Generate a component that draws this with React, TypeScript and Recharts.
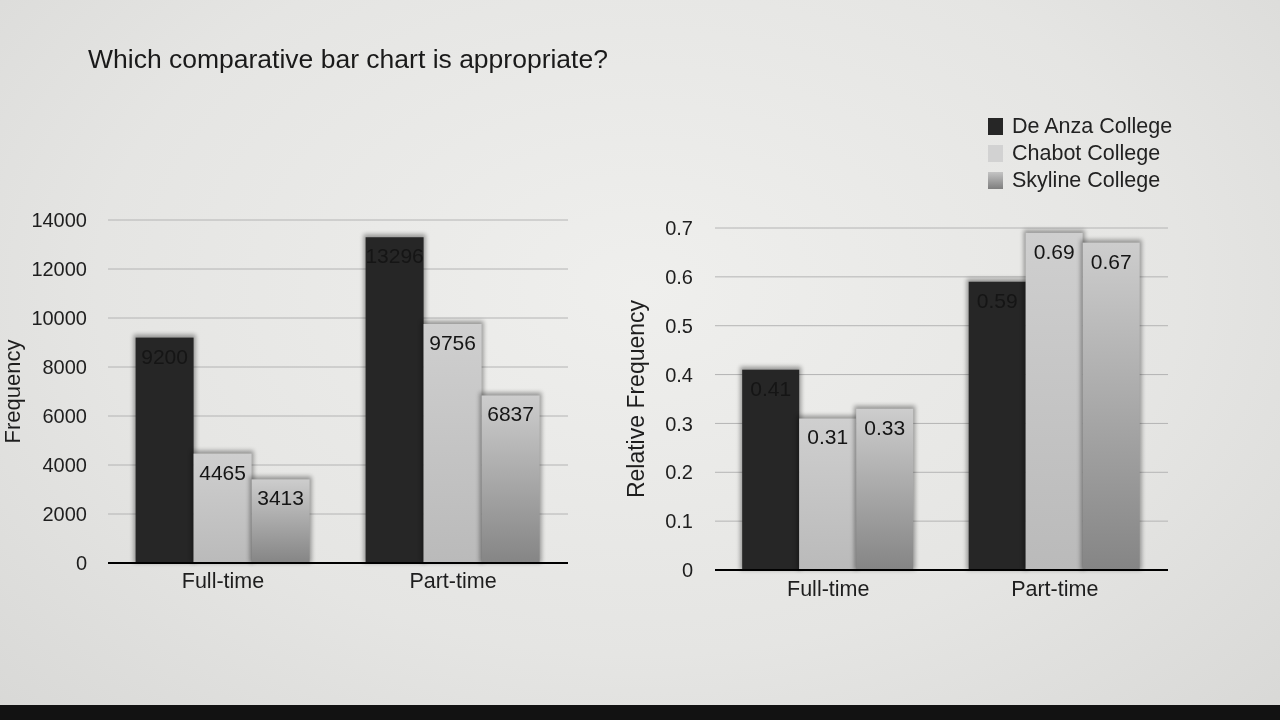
import React from 'react';
import { BarChart, Bar, XAxis, YAxis, CartesianGrid, LabelList, Label } from 'recharts';

const categories = ['Full-time', 'Part-time'];
const seriesNames = ['De Anza College', 'Chabot College', 'Skyline College'];
const deAnzaFreq = [9200, 13296];
const chabotFreq = [4465, 9756];
const skylineFreq = [3413, 6837];
const deAnzaRel = [0.41, 0.59];
const chabotRel = [0.31, 0.69];
const skylineRel = [0.33, 0.67];
const freqTicks = [0, 2000, 4000, 6000, 8000, 10000, 12000, 14000];
const relTicks = [0, 0.1, 0.2, 0.3, 0.4, 0.5, 0.6, 0.7];

const freqData = categories.map((c, i) => ({ cat: c, deAnza: deAnzaFreq[i], chabot: chabotFreq[i], skyline: skylineFreq[i] }));
const relData = categories.map((c, i) => ({ cat: c, deAnza: deAnzaRel[i], chabot: chabotRel[i], skyline: skylineRel[i] }));

const FONT = '"Liberation Sans", Arial, Helvetica, sans-serif';
const TEXT = '#1e1e1e';

const makeShape = (prefix: string) => (props: any) => {
  const { x, y, width, height, fill } = props;
  if (height == null || height <= 0) return <g />;
  return (
    <g>
      <rect x={x - 2} y={y - 3} width={width + 4} height={height + 3} fill="#000" opacity={0.35} filter={`url(#${prefix}-blur)`} />
      <rect x={x} y={y} width={width} height={height} fill={fill} />
    </g>
  );
};

const Defs = ({ prefix }: { prefix: string }) => (
  <defs>
    <filter id={`${prefix}-blur`} x="-20%" y="-20%" width="140%" height="140%">
      <feGaussianBlur stdDeviation="2" />
    </filter>
    <linearGradient id={`${prefix}-sky`} x1="0" y1="0" x2="0" y2="1">
      <stop offset="0%" stopColor="#cdcdcd" />
      <stop offset="100%" stopColor="#858585" />
    </linearGradient>
    <linearGradient id={`${prefix}-chabot`} x1="0" y1="0" x2="0" y2="1">
      <stop offset="0%" stopColor="#cfcfcf" />
      <stop offset="100%" stopColor="#bababa" />
    </linearGradient>
  </defs>
);

const legendFills = ['#262626', '#d2d2d2', 'linear-gradient(#c4c4c4, #7e7e7e)'];

const labelStyle = { fontSize: 21, fill: '#151515', fontFamily: FONT };
const tickStyle = { fontSize: 20, fill: TEXT, fontFamily: FONT };
const catStyle = { fontSize: 21.5, fill: TEXT, fontFamily: FONT };

export default function App() {
  return (
    <div
      style={{
        position: 'fixed',
        left: 0,
        top: 0,
        width: 1280,
        height: 720,
        overflow: 'hidden',
        background: 'radial-gradient(ellipse at 50% 40%, #efefed 0%, #e5e5e3 60%, #d8d8d6 100%)',
        fontFamily: FONT,
      }}
    >
      <div style={{ position: 'absolute', left: 88, top: 44, fontSize: 26.5, color: '#1a1a1a', whiteSpace: 'nowrap' }}>
        Which comparative bar chart is appropriate?
      </div>

      <div style={{ position: 'absolute', left: 988, top: 113, fontFamily: FONT, fontSize: 21.5, color: '#222' }}>
        {seriesNames.map((n, i) => (
          <div key={n} style={{ display: 'flex', alignItems: 'center', height: 27, whiteSpace: 'nowrap' }}>
            <div style={{ width: 15, height: 17, background: legendFills[i], marginRight: 9 }} />
            <span>{n}</span>
          </div>
        ))}
      </div>

      <div style={{ position: 'absolute', left: 0, top: 200 }}>
        <BarChart width={590} height={420} data={freqData} margin={{ top: 20, right: 22, bottom: 17, left: 0 }} barCategoryGap="12%" barGap={0}>
          <Defs prefix="f" />
          <CartesianGrid vertical={false} stroke="#b4b4b4" strokeWidth={1} />
          <XAxis dataKey="cat" axisLine={{ stroke: '#000', strokeWidth: 2 }} tickLine={false} tickSize={0} tickMargin={10} height={40}
            tick={catStyle} />
          <YAxis width={108} domain={[0, 14000]} ticks={freqTicks} axisLine={false} tickLine={false} tickSize={0} tickMargin={21}
            tick={tickStyle}>
            <Label value="Frequency" angle={-90} position="insideLeft" offset={12} style={{ textAnchor: 'middle', fontSize: 22, fill: TEXT, fontFamily: FONT }} />
          </YAxis>
          <Bar dataKey="deAnza" name={seriesNames[0]} fill="#262626" isAnimationActive={false} shape={makeShape('f')}>
            <LabelList dataKey="deAnza" position="insideTop" offset={11} style={labelStyle} />
          </Bar>
          <Bar dataKey="chabot" name={seriesNames[1]} fill="url(#f-chabot)" isAnimationActive={false} shape={makeShape('f')}>
            <LabelList dataKey="chabot" position="insideTop" offset={11} style={labelStyle} />
          </Bar>
          <Bar dataKey="skyline" name={seriesNames[2]} fill="url(#f-sky)" isAnimationActive={false} shape={makeShape('f')}>
            <LabelList dataKey="skyline" position="insideTop" offset={11} style={labelStyle} />
          </Bar>
        </BarChart>
      </div>

      <div style={{ position: 'absolute', left: 600, top: 208 }}>
        <BarChart width={590} height={422} data={relData} margin={{ top: 20, right: 22, bottom: 20, left: 0 }} barCategoryGap="12%" barGap={0}>
          <Defs prefix="r" />
          <CartesianGrid vertical={false} stroke="#b4b4b4" strokeWidth={1} />
          <XAxis dataKey="cat" axisLine={{ stroke: '#000', strokeWidth: 2 }} tickLine={false} tickSize={0} tickMargin={11} height={40}
            tick={catStyle} />
          <YAxis width={115} domain={[0, 0.7]} ticks={relTicks} axisLine={false} tickLine={false} tickSize={0} tickMargin={22}
            tick={tickStyle}>
            <Label value="Relative Frequency" angle={-90} position="insideLeft" offset={36} style={{ textAnchor: 'middle', fontSize: 23, fill: TEXT, fontFamily: FONT }} />
          </YAxis>
          <Bar dataKey="deAnza" name={seriesNames[0]} fill="#262626" isAnimationActive={false} shape={makeShape('r')}>
            <LabelList dataKey="deAnza" position="insideTop" offset={11} style={labelStyle} />
          </Bar>
          <Bar dataKey="chabot" name={seriesNames[1]} fill="url(#r-chabot)" isAnimationActive={false} shape={makeShape('r')}>
            <LabelList dataKey="chabot" position="insideTop" offset={11} style={labelStyle} />
          </Bar>
          <Bar dataKey="skyline" name={seriesNames[2]} fill="url(#r-sky)" isAnimationActive={false} shape={makeShape('r')}>
            <LabelList dataKey="skyline" position="insideTop" offset={11} style={labelStyle} />
          </Bar>
        </BarChart>
      </div>

      <div style={{ position: 'absolute', left: 0, top: 705, width: 1280, height: 15, background: '#121212' }} />
    </div>
  );
}
